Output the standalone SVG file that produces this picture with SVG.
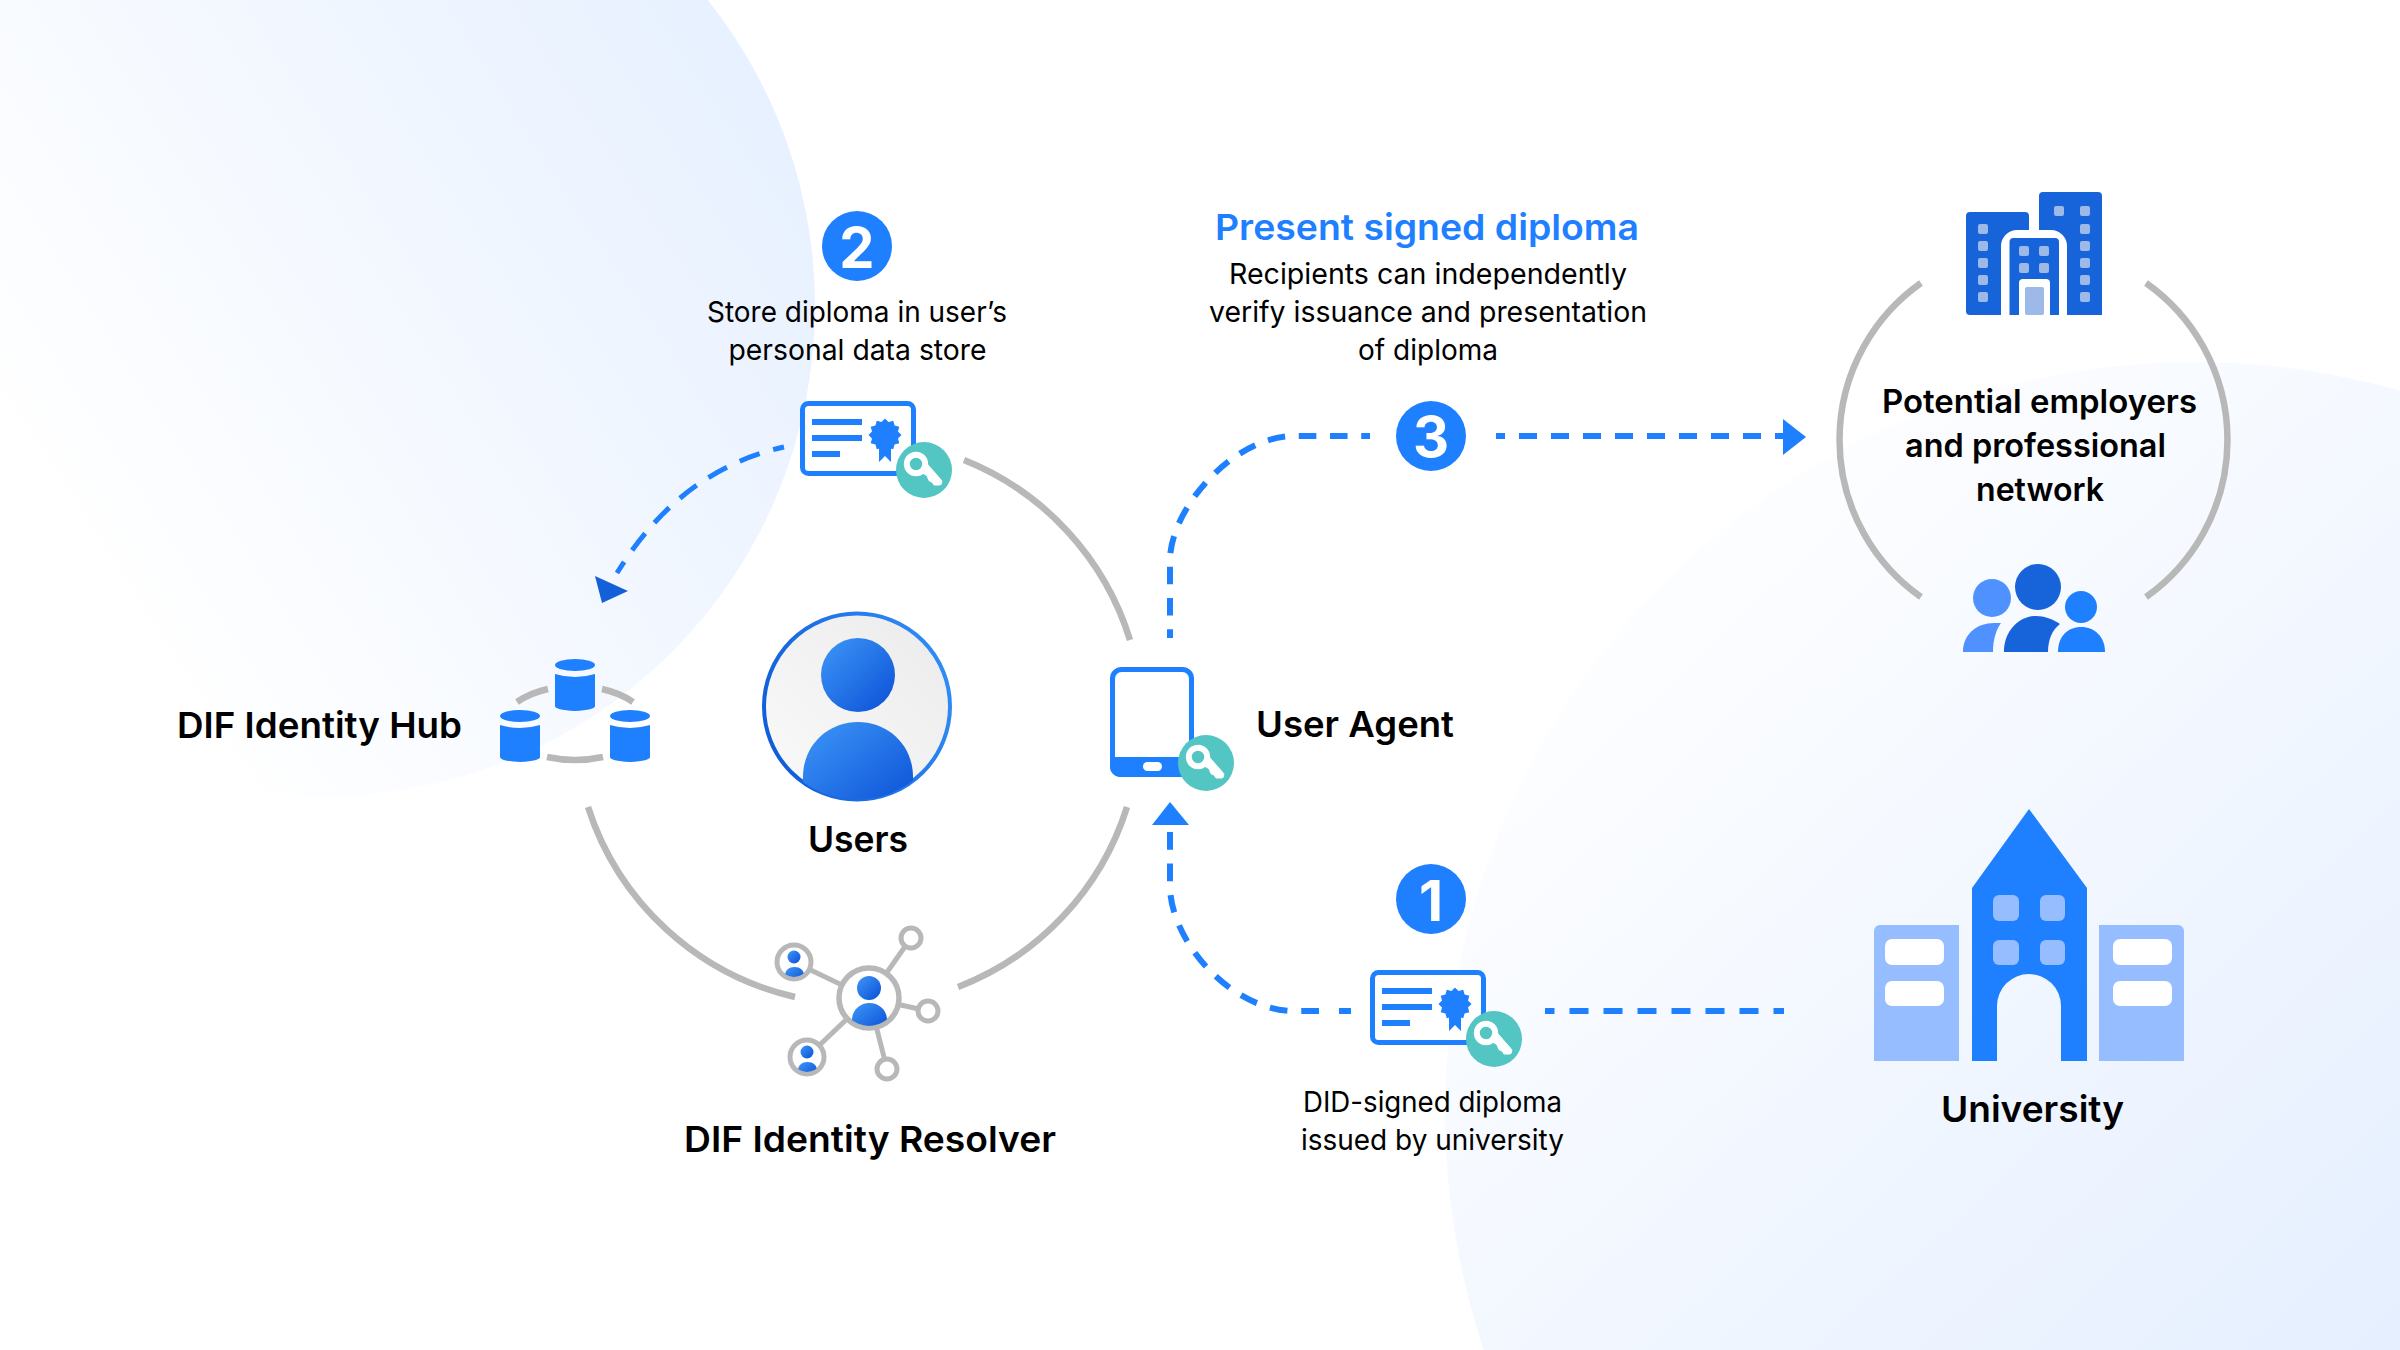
<svg xmlns="http://www.w3.org/2000/svg" xmlns:xlink="http://www.w3.org/1999/xlink" width="2400" height="1350" viewBox="0 0 2400 1350">
<style>
text{font-family:"Inter","Liberation Sans",sans-serif;fill:#000}
.b{font-size:29px;font-weight:400;text-anchor:start}
.l{font-size:36px;font-weight:600}
.num{font-size:56px;font-weight:700;fill:#fff;text-anchor:middle}
.ring{fill:none;stroke:#b8b8b8;stroke-width:6.5}
.dash{fill:none;stroke:#1e80ff;stroke-width:6;stroke-dasharray:18 14}
.blue{fill:#1e80ff}.pale{fill:#95bdff}.dark{fill:#1763da}.win{fill:#9db9e8}
.sp{fill:url(#pg)}
.thin{fill:#fff;stroke:#b8b8b8;stroke-width:5}
</style>
<defs>
<linearGradient id="bg1" gradientUnits="userSpaceOnUse" x1="80" y1="560" x2="760" y2="120"><stop offset="0" stop-color="#fff"/><stop offset="1" stop-color="#e8f1ff"/></linearGradient>
<linearGradient id="bg2" gradientUnits="userSpaceOnUse" x1="1600" y1="500" x2="2400" y2="1350"><stop offset="0" stop-color="#fff"/><stop offset="1" stop-color="#e5efff"/></linearGradient>
<linearGradient id="pg" x1="0" y1="0" x2="1" y2="1"><stop offset="0" stop-color="#3e97f8"/><stop offset="1" stop-color="#0a4fd6"/></linearGradient>
<linearGradient id="uf" x1="0" y1="1" x2="1" y2="0"><stop offset="0" stop-color="#fafafa"/><stop offset="1" stop-color="#ebebeb"/></linearGradient>
<linearGradient id="us" x1="0" y1="0.7" x2="1" y2="0.3"><stop offset="0" stop-color="#0f5cd9"/><stop offset="1" stop-color="#308cf6"/></linearGradient>
<clipPath id="cu"><circle cx="857" cy="706.5" r="93"/></clipPath>
<clipPath id="cr"><circle cx="869" cy="998" r="28"/></clipPath>
<clipPath id="cp1"><circle cx="794" cy="962" r="15"/></clipPath>
<clipPath id="cp2"><circle cx="807" cy="1057" r="15"/></clipPath>
<g id="key"><circle r="28" fill="#53c5c3"/><circle cx="-8" cy="-6" r="9.2" fill="none" stroke="#fff" stroke-width="6"/><polygon fill="#fff" stroke="#fff" stroke-linejoin="round" points="1.7,-7.700 17.800,10.700 17.500,14 15.700,15 10,15 8.300,12.300 5,10.700 3,5.700 -1,3.300"/></g>
<g id="cert"><rect x="2.500" y="2.500" width="111" height="70" rx="6" fill="#fff" stroke="#1e80ff" stroke-width="5"/><rect class="blue" x="12" y="18" width="50" height="6"/><rect class="blue" x="12" y="34" width="50" height="6"/><rect class="blue" x="12" y="50" width="28" height="6"/><g transform="translate(85 34)"><polygon class="blue" points="0,-16.5 3.5,-13 8.25,-14.3 9.55,-9.55 14.3,-8.25 13,-3.5 16.5,0 13,3.5 14.3,8.25 9.55,9.55 8.25,14.3 3.5,13 0,16.5 -3.5,13 -8.25,14.3 -9.55,9.55 -14.3,8.25 -13,3.5 -16.5,0 -13,-3.5 -14.3,-8.25 -9.55,-9.55 -8.25,-14.3 -3.5,-13"/><polygon class="blue" points="-6,10 -6,27 0,21 6,27 6,10"/></g><use xlink:href="#key" href="#key" x="124" y="69"/></g>
<g id="cyl"><ellipse class="blue" cx="20" cy="6" rx="20" ry="6"/><path class="blue" d="M0 15 Q20 21 40 15 V47 Q40 51 20 52 Q0 51 0 47Z"/></g>
</defs>
<g id="background">
<rect width="2400" height="1350" fill="#fff"/>
<circle cx="325" cy="306" r="490" fill="url(#bg1)"/>
<circle cx="2195" cy="1112" r="750" fill="url(#bg2)"/>
</g>
<g id="connectors">
<path class="ring" d="M964 460 A284 284 0 0 1 1130 640"/>
<path class="ring" d="M1127 807 A284 284 0 0 1 958 987"/>
<path class="ring" d="M795 997 A284 284 0 0 1 588 807"/>
<path class="ring" d="M1921 283 A192 192 0 0 0 1921 597"/>
<path class="ring" d="M2146 283 A192 192 0 0 1 2146 597"/>
<path class="dash" pathLength="213" style="stroke-width:5;stroke-dasharray:21 14;stroke-dashoffset:10" d="M784 447 Q680 470 617 573"/>
<polygon points="595,576 602,603 628,591" fill="#1460d8"/>
<path class="dash" pathLength="352" style="stroke-dashoffset:9" d="M1170 638 V560 C1170 510 1232 436 1295 436 H1370"/>
<path class="dash" style="stroke-dashoffset:9" d="M1496 436 H1783"/>
<polygon class="blue" points="1783,419 1806,437 1783,455"/>
<path class="dash" pathLength="274" d="M1170 832 V886 C1170 940 1230 1011 1295 1011 H1319"/>
<path class="dash" d="M1339 1011 H1351"/>
<polygon class="blue" points="1170,802 1189,825 1152,825"/>
<path class="dash" style="stroke-dasharray:19 15;stroke-dashoffset:9.500" d="M1545 1011 H1784"/>
</g>
<g id="step-2">
<circle class="blue" cx="857" cy="246" r="35"/><text class="num" x="857" y="268">2</text>
<text class="b" x="707" y="322" textLength="300" lengthAdjust="spacingAndGlyphs">Store diploma in user’s</text>
<text class="b" x="728.500" y="360" textLength="258" lengthAdjust="spacingAndGlyphs">personal data store</text>
</g>
<g id="cert-stored"><use xlink:href="#cert" href="#cert" x="800" y="401"/></g>
<g id="present-label">
<text x="1215" y="240" style="font-size:36px;font-weight:600;fill:#1e80ff" textLength="424" lengthAdjust="spacingAndGlyphs">Present signed diploma</text>
<text class="b" x="1229" y="284" textLength="398" lengthAdjust="spacingAndGlyphs">Recipients can independently</text>
<text class="b" x="1209" y="322" textLength="438" lengthAdjust="spacingAndGlyphs">verify issuance and presentation</text>
<text class="b" x="1358" y="360" textLength="140" lengthAdjust="spacingAndGlyphs">of diploma</text>
</g>
<g id="step-3"><circle class="blue" cx="1431" cy="436" r="35"/><text class="num" x="1431" y="457">3</text></g>
<g id="employers">
<rect class="dark" x="1966" y="212" width="63" height="103" rx="4"/>
<path class="dark" d="M2039 315 V196 a4 4 0 0 1 4 -4 H2098 a4 4 0 0 1 4 4 V315Z"/>
<path fill="#fff" d="M2001 315 V246 a16 16 0 0 1 16 -16 H2051 a16 16 0 0 1 16 16 V315Z"/>
<path class="dark" d="M2009.500 315 V242 a4 4 0 0 1 4 -4 H2055 a4 4 0 0 1 4 4 V315Z"/>
<g class="win">
<rect x="1978" y="224" width="10" height="10" rx="2"/><rect x="1978" y="241" width="10" height="10" rx="2"/><rect x="1978" y="258" width="10" height="10" rx="2"/><rect x="1978" y="275" width="10" height="10" rx="2"/><rect x="1978" y="292" width="10" height="10" rx="2"/>
<rect x="2080" y="206" width="10" height="10" rx="2"/><rect x="2080" y="224" width="10" height="10" rx="2"/><rect x="2080" y="241" width="10" height="10" rx="2"/><rect x="2080" y="258" width="10" height="10" rx="2"/><rect x="2080" y="275" width="10" height="10" rx="2"/><rect x="2080" y="292" width="10" height="10" rx="2"/>
<rect x="2054" y="206" width="10" height="10" rx="2"/>
<rect x="2019" y="246" width="10" height="10" rx="2"/><rect x="2039" y="246" width="10" height="10" rx="2"/><rect x="2019" y="263" width="10" height="10" rx="2"/><rect x="2039" y="263" width="10" height="10" rx="2"/>
</g>
<path fill="#fff" d="M2019 315 V283 a4 4 0 0 1 4 -4 H2046 a4 4 0 0 1 4 4 V315Z"/>
<rect class="win" x="2025" y="287" width="19" height="28" rx="2"/>
<text class="l" style="font-size:33px" x="1882" y="413" textLength="315" lengthAdjust="spacingAndGlyphs">Potential employers</text>
<text class="l" style="font-size:33px" x="1905" y="457" textLength="261" lengthAdjust="spacingAndGlyphs">and professional</text>
<text class="l" style="font-size:33px" x="1976" y="501" textLength="128" lengthAdjust="spacingAndGlyphs">network</text>
<circle cx="1992" cy="598" r="19" fill="#4f92ff"/>
<path fill="#4f92ff" d="M1963 652 C1963 634 1977 623 1994 623 H2001 C1996 630 1993 640 1993 652Z"/>
<circle class="dark" cx="2038" cy="587" r="23"/>
<path class="dark" d="M2004 652 C2004 630 2020 616 2036 616 C2044 616 2053 619 2060 624 C2052 630 2048 640 2048 652Z"/>
<circle class="blue" cx="2081" cy="607" r="16"/>
<path class="blue" d="M2058 652 C2058 636 2068 627 2081 627 C2095 627 2105 637 2105 652Z"/>
</g>
<g id="hub">
<text class="l" x="177" y="738" textLength="285" lengthAdjust="spacingAndGlyphs">DIF Identity Hub</text>
<path class="ring" d="M517 702 Q530 693 548 689"/>
<path class="ring" d="M602 689 Q620 693 633 702"/>
<path class="ring" d="M547 757 Q575 763 603 757"/>
<use xlink:href="#cyl" href="#cyl" x="555" y="659"/>
<use xlink:href="#cyl" href="#cyl" x="500" y="710"/>
<use xlink:href="#cyl" href="#cyl" x="610" y="710"/>
</g>
<g id="users">
<circle cx="857" cy="706.5" r="93" fill="url(#uf)" stroke="url(#us)" stroke-width="4"/>
<circle class="sp" cx="858" cy="675" r="37"/>
<path class="sp" clip-path="url(#cu)" d="M803 810 V777 C803 745 828 722 858 722 C888 722 913 745 913 777 V810Z"/>
<text class="l" x="808" y="852" textLength="100" lengthAdjust="spacingAndGlyphs">Users</text>
</g>
<g id="user-agent">
<rect x="1112.500" y="669.500" width="79" height="105" rx="9" fill="#fff" stroke="#1e80ff" stroke-width="5"/>
<path class="blue" d="M1110 757 H1194 V767 a10 10 0 0 1 -10 10 H1120 a10 10 0 0 1 -10 -10Z"/>
<rect x="1143" y="762" width="19" height="9" rx="4.500" fill="#fff"/>
<use xlink:href="#key" href="#key" x="1206" y="763"/>
<text class="l" x="1256" y="737" textLength="198" lengthAdjust="spacingAndGlyphs">User Agent</text>
</g>
<g id="resolver">
<g stroke="#b8b8b8" stroke-width="5" fill="none">
<path d="M869 998 L794 962"/><path d="M869 998 L911 938"/><path d="M869 998 L928 1011"/><path d="M869 998 L807 1057"/><path d="M869 998 L887 1069"/>
</g>
<circle class="thin" cx="869" cy="998" r="30" style="stroke-width:5.500"/>
<circle class="thin" cx="794" cy="962" r="17"/><circle class="thin" cx="807" cy="1057" r="17"/>
<circle class="thin" cx="911" cy="938" r="10"/><circle class="thin" cx="928" cy="1011" r="10"/><circle class="thin" cx="887" cy="1069" r="10"/>
<circle class="sp" cx="869" cy="988" r="12"/>
<path class="sp" clip-path="url(#cr)" d="M852 1030 V1020 C852 1010 860 1003 869.500 1003 C879 1003 887 1010 887 1020 V1030Z"/>
<circle class="sp" cx="794" cy="957" r="6.500"/>
<path class="sp" clip-path="url(#cp1)" d="M785 982 V976 C785 970 789 967 794.500 967 C800 967 804 970 804 976 V982Z"/>
<circle class="sp" cx="807" cy="1052" r="6.500"/>
<path class="sp" clip-path="url(#cp2)" d="M798 1077 V1071 C798 1065 802 1062 807.500 1062 C813 1062 817 1065 817 1071 V1077Z"/>
<text class="l" x="684" y="1152" textLength="372" lengthAdjust="spacingAndGlyphs">DIF Identity Resolver</text>
</g>
<g id="step-1"><circle class="blue" cx="1431" cy="899" r="35"/><text class="num" x="1431" y="921">1</text></g>
<g id="cert-issued">
<use xlink:href="#cert" href="#cert" x="1370" y="970"/>
<text class="b" x="1303" y="1112" textLength="259" lengthAdjust="spacingAndGlyphs">DID-signed diploma</text>
<text class="b" x="1301" y="1150" textLength="263" lengthAdjust="spacingAndGlyphs">issued by university</text>
</g>
<g id="university">
<path class="pale" d="M1874 1061 V931 a6 6 0 0 1 6 -6 H1959 V1061Z"/>
<path class="pale" d="M2099 1061 V925 H2178 a6 6 0 0 1 6 6 V1061Z"/>
<rect x="1885" y="939" width="59" height="26" rx="7" fill="#fff"/><rect x="1885" y="981" width="59" height="25" rx="7" fill="#fff"/>
<rect x="2113" y="939" width="59" height="26" rx="7" fill="#fff"/><rect x="2113" y="981" width="59" height="25" rx="7" fill="#fff"/>
<path class="blue" d="M2029 809 L2087 888 V1061 H2061 V1006 A32 32 0 0 0 1997 1006 V1061 H1972 V888Z"/>
<rect class="pale" x="1993" y="895" width="26" height="26" rx="6"/><rect class="pale" x="2040" y="895" width="25" height="26" rx="6"/>
<rect class="pale" x="1993" y="940" width="26" height="25" rx="6"/><rect class="pale" x="2040" y="940" width="25" height="25" rx="6"/>
<text class="l" x="1941" y="1122" textLength="183" lengthAdjust="spacingAndGlyphs">University</text>
</g>
</svg>
